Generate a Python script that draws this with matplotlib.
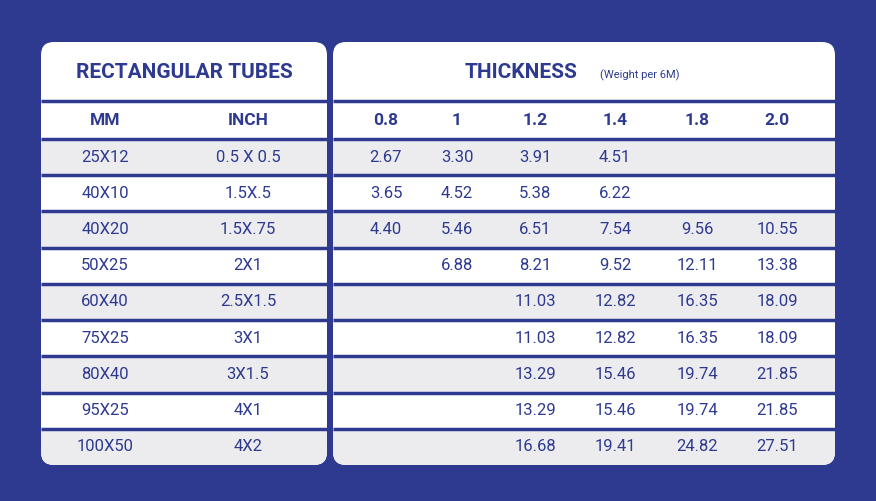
import matplotlib.pyplot as plt
from matplotlib.patches import FancyBboxPatch, Rectangle

plt.rcParams['font.family'] = ['Roboto', 'DejaVu Sans']

mm = ['25X12', '40X10', '40X20', '50X25', '60X40', '75X25', '80X40', '95X25', '100X50']
inch = ['0.5 X 0.5', '1.5X.5', '1.5X.75', '2X1', '2.5X1.5', '3X1', '3X1.5', '4X1', '4X2']
thickness = ['0.8', '1', '1.2', '1.4', '1.8', '2.0']
weights = [
    ['2.67', '3.30', '3.91', '4.51', '', ''],
    ['3.65', '4.52', '5.38', '6.22', '', ''],
    ['4.40', '5.46', '6.51', '7.54', '9.56', '10.55'],
    ['', '6.88', '8.21', '9.52', '12.11', '13.38'],
    ['', '', '11.03', '12.82', '16.35', '18.09'],
    ['', '', '11.03', '12.82', '16.35', '18.09'],
    ['', '', '13.29', '15.46', '19.74', '21.85'],
    ['', '', '13.29', '15.46', '19.74', '21.85'],
    ['', '', '16.68', '19.41', '24.82', '27.51'],
]

blue = '#2e3a8f'
grey = '#ececef'

fig = plt.figure(figsize=(8.76, 5.01), dpi=100, facecolor=blue)
ax = fig.add_axes([0, 0, 1, 1])
ax.set_xlim(0, 876)
ax.set_ylim(501, 0)
ax.axis('off')

top, bottom = 42, 465
title_bot, head_bot = 101, 139
row_h = (bottom - head_bot) / len(mm)
panels = [(41, 327), (333, 835)]

for x0, x1 in panels:
    p = FancyBboxPatch((x0, top), x1 - x0, bottom - top,
                       boxstyle='round,pad=0,rounding_size=13',
                       fc='white', ec='none', zorder=1)
    ax.add_patch(p)
    for i in range(len(mm)):
        if i % 2 == 0:
            r = Rectangle((x0, head_bot + i * row_h), x1 - x0, row_h,
                          fc=grey, ec='none', zorder=2)
            ax.add_patch(r)
            r.set_clip_path(p)
    ys = [title_bot, head_bot] + [head_bot + i * row_h for i in range(1, len(mm))]
    for y in ys:
        ax.plot([x0, x1], [y, y], color=blue, lw=2.5, zorder=3,
                solid_capstyle='butt')

# titles
ax.text(184, 72, 'RECTANGULAR TUBES', ha='center', va='center',
        fontsize=15, fontweight='bold', color=blue)
ax.text(465, 72, 'THICKNESS', ha='left', va='center',
        fontsize=15, fontweight='bold', color=blue)
ax.text(600, 75, '(Weight per 6M)', ha='left', va='center',
        fontsize=8, color=blue)

# column headers
hy = (title_bot + head_bot) / 2
left_x = [105, 248]
right_x = [386, 457, 535, 615, 697, 777]
ax.text(left_x[0], hy, 'MM', ha='center', va='center', fontsize=12.5, fontweight='bold', color=blue)
ax.text(left_x[1], hy, 'INCH', ha='center', va='center', fontsize=12.5, fontweight='bold', color=blue)
for x, t in zip(right_x, thickness):
    ax.text(x, hy, t, ha='center', va='center', fontsize=12.5, fontweight='bold', color=blue)

for i in range(len(mm)):
    y = head_bot + (i + 0.5) * row_h
    ax.text(left_x[0], y, mm[i], ha='center', va='center', fontsize=12, color=blue, zorder=4)
    ax.text(left_x[1], y, inch[i], ha='center', va='center', fontsize=12, color=blue, zorder=4)
    for x, w in zip(right_x, weights[i]):
        if w:
            ax.text(x, y, w, ha='center', va='center', fontsize=12, color=blue, zorder=4)

fig.savefig('out.png', dpi=100, facecolor=blue)
